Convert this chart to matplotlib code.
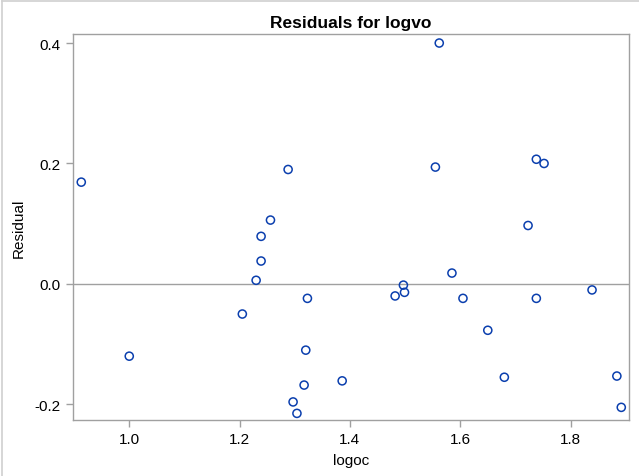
import matplotlib
matplotlib.use("Agg")
import matplotlib.pyplot as plt
from matplotlib.lines import Line2D

logoc = [0.913, 1.000, 1.205, 1.230, 1.239, 1.256, 1.239, 1.288, 1.297, 1.304,
         1.317, 1.320, 1.323, 1.386, 1.482, 1.497, 1.499, 1.585, 1.605, 1.650,
         1.680, 1.738, 1.839, 1.884, 1.892, 1.562, 1.555, 1.738, 1.752, 1.723]
residual = [0.169, -0.120, -0.050, 0.006, 0.038, 0.106, 0.079, 0.190, -0.196, -0.215,
            -0.168, -0.110, -0.024, -0.161, -0.020, -0.002, -0.014, 0.018, -0.024, -0.077,
            -0.155, -0.024, -0.010, -0.153, -0.205, 0.400, 0.194, 0.207, 0.200, 0.097]
xticks = [1.0, 1.2, 1.4, 1.6, 1.8]
yticks = [-0.2, 0.0, 0.2, 0.4]

plt.rcParams['font.family'] = ['Liberation Sans', 'DejaVu Sans']

W, H = 639, 477
fig = plt.figure(figsize=(W/100, H/100), dpi=100)
ax = fig.add_axes([73/W, 1-421/H, (629-73)/W, (421-35)/H])

gray = '#a0a0a0'
ax.axhline(0.0, color=gray, lw=1.0, zorder=1)
ax.scatter(logoc, residual, s=34, facecolors='none', edgecolors='#0b3fae',
           linewidths=1.1, zorder=3)

ax.set_xlim(0.898, 1.906)
ax.set_ylim(-0.226, 0.415)
ax.set_xticks(xticks)
ax.set_xticklabels([f"{v:.1f}" for v in xticks])
ax.set_yticks(yticks)
ax.set_yticklabels([f"{v:.1f}" for v in yticks])
for s in ax.spines.values():
    s.set_color(gray)
    s.set_linewidth(1.0)
ax.tick_params(direction='out', length=5, width=1, color=gray,
               labelsize=11, labelcolor='black', pad=4)

ax.set_xlabel('logoc', fontsize=11, labelpad=5)
ax.set_ylabel('Residual', fontsize=11, labelpad=6)
ax.set_title('Residuals for logvo', fontsize=12.5, fontweight='bold', pad=5)

# light outer border (top and left)
fig.add_artist(Line2D([1.5/W, 1.5/W], [0, 1-1.5/H], transform=fig.transFigure,
                      color='#d0d0d0', lw=1.2))
fig.add_artist(Line2D([1.5/W, 1], [1-1.5/H, 1-1.5/H], transform=fig.transFigure,
                      color='#d0d0d0', lw=1.2))

fig.savefig('out.png', dpi=100)
